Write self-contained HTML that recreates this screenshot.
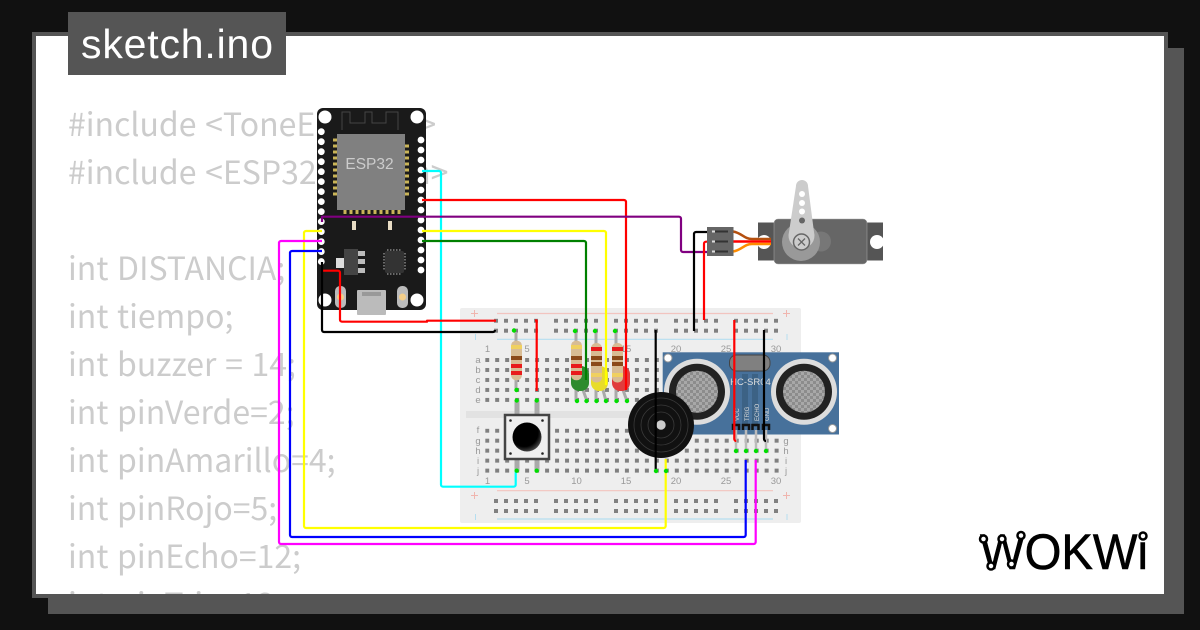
<!DOCTYPE html>
<html><head><meta charset="utf-8"><style>
html,body{margin:0;padding:0;background:#111;width:1200px;height:630px;overflow:hidden}
svg{display:block;position:absolute;left:0;top:0}
.code{font-family:"Noto Sans CJK JP","Liberation Sans",sans-serif;font-size:32px;fill:#ccc;word-spacing:1.5px}
.w{fill:none;stroke-width:2.2;stroke-linejoin:round}
</style></head><body>
<svg width="1200" height="630" viewBox="0 0 1200 630" xmlns="http://www.w3.org/2000/svg">
<defs>
<clipPath id="cp"><rect x="36" y="36" width="1128" height="558"/></clipPath>
<pattern id="h" x="485.2" y="358" width="9.98" height="9.98" patternUnits="userSpaceOnUse"><rect width="4" height="4" fill="#808080"/></pattern>
<pattern id="h2" x="485.2" y="428.7" width="9.98" height="9.98" patternUnits="userSpaceOnUse"><rect width="4" height="4" fill="#808080"/></pattern>
<pattern id="r" x="494" y="318.700" width="10" height="10" patternUnits="userSpaceOnUse"><rect width="4" height="4" fill="#808080"/></pattern>
<pattern id="r2" x="494" y="499" width="10" height="10" patternUnits="userSpaceOnUse"><rect width="4" height="4" fill="#808080"/></pattern>
<pattern id="ck" width="6" height="6" patternUnits="userSpaceOnUse"><rect width="6" height="6" fill="#a8a8a8"/><rect width="3" height="3" fill="#8c8c8c"/><rect x="3" y="3" width="3" height="3" fill="#8c8c8c"/></pattern>
<radialGradient id="bt" cx=".4" cy=".35" r=".8"><stop offset=".6" stop-color="#000"/><stop offset="1" stop-color="#777"/></radialGradient>
</defs>

<rect x="48" y="48" width="1136" height="566" fill="#555"/>
<rect x="32" y="32" width="1136" height="566" fill="#555"/>
<rect x="36" y="36" width="1128" height="558" fill="#fff"/>
<g clip-path="url(#cp)" class="code">
<text x="68" y="136">#include &lt;ToneESP32.h&gt;</text>
<text x="68" y="184">#include &lt;ESP32Servo.h&gt;</text>
<text x="68" y="280">int DISTANCIA;</text>
<text x="68" y="328">int tiempo;</text>
<text x="68" y="376">int buzzer = 14;</text>
<text x="68" y="424">int pinVerde=2;</text>
<text x="68" y="472">int pinAmarillo=4;</text>
<text x="68" y="520">int pinRojo=5;</text>
<text x="68" y="568">int pinEcho=12;</text>
<text x="68" y="616">int pinTrig=13;</text>
</g>
<rect x="68" y="12" width="218" height="63" fill="#555"/>
<text x="81" y="58" font-family="Liberation Sans,sans-serif" font-size="41" fill="#fff" textLength="192">sketch.ino</text>

<!-- breadboard -->
<rect x="460" y="308" width="341" height="215" rx="2" fill="#eee"/>
<rect x="466" y="411" width="329" height="7" fill="#e2e2e2"/>
<path d="M497 313.5H773M497 490.7H773" stroke="#f2c4bf" stroke-width="1.2"/>
<path d="M497 339.3H773M497 519H773" stroke="#b5def0" stroke-width="1.2"/>
<path d="M471 313.5h7M474.5 310v7M471 495.5h7M474.5 492v7M783 313.5h7M786.5 310v7M783 495.5h7M786.5 492v7" stroke="#f0b5ae" stroke-width="1"/>
<path d="M475.5 334v6M475.5 514v6M787 334v6M787 514v6" stroke="#b5def0" stroke-width="1"/>
<rect x="485.2" y="358" width="294" height="45" fill="url(#h)"/>
<rect x="485.2" y="428.7" width="294" height="45" fill="url(#h2)"/>
<g fill="url(#r)">
<rect x="494" y="318.700" width="45" height="15"/><rect x="554" y="318.700" width="45" height="15"/><rect x="614" y="318.700" width="45" height="15"/><rect x="674" y="318.700" width="45" height="15"/><rect x="734" y="318.700" width="45" height="15"/>
</g>
<g fill="url(#r2)">
<rect x="494" y="499" width="45" height="15"/><rect x="554" y="499" width="45" height="15"/><rect x="614" y="499" width="45" height="15"/><rect x="674" y="499" width="45" height="15"/><rect x="734" y="499" width="45" height="15"/>
</g>
<g font-family="Liberation Sans,sans-serif" font-size="9.500" fill="#999" text-anchor="middle">
<text x="487.5" y="352">1</text><text x="527" y="352">5</text><text x="576.5" y="352">10</text><text x="626" y="352">15</text><text x="676" y="352">20</text><text x="726" y="352">25</text><text x="776" y="352">30</text>
<text x="487.5" y="484">1</text><text x="527" y="484">5</text><text x="576.5" y="484">10</text><text x="626" y="484">15</text><text x="676" y="484">20</text><text x="726" y="484">25</text><text x="776" y="484">30</text>
<text x="478" y="363">a</text><text x="478" y="373">b</text><text x="478" y="383">c</text><text x="478" y="393">d</text><text x="478" y="403">e</text>
<text x="478" y="433">f</text><text x="478" y="444">g</text><text x="478" y="454">h</text><text x="478" y="464">i</text><text x="478" y="474">j</text>
<text x="786" y="444">g</text><text x="786" y="454">h</text><text x="786" y="464">i</text><text x="786" y="474">j</text>
</g>

<!-- ESP32 -->
<rect x="317" y="108" width="109" height="202" rx="6" fill="#1a1a1a"/>
<path d="M342 130V112H350V123H365V112H372V123H386V112H398V130" fill="none" stroke="#444" stroke-width="1"/>
<path d="M333 140H337M333 146H337M333 152H337M333 158H337M333 164H337M333 170H337M333 176H337M333 182H337M333 188H337M333 194H337M405 146H409M405 152H409M405 158H409M405 164H409M405 170H409M405 176H409M405 182H409M405 188H409M405 194H409" stroke="#c9b458" stroke-width="3"/>
<path d="M345 210V214M351 210V214M357 210V214M363 210V214M369 210V214M375 210V214M381 210V214M387 210V214M393 210V214M399 210V214" stroke="#c9b458" stroke-width="3"/>
<rect x="337" y="134" width="68" height="76" fill="#808080"/>
<text x="369.500" y="169" font-family="Liberation Sans,sans-serif" font-size="15.500" fill="#ccc" text-anchor="middle">ESP32</text>
<rect x="352" y="221" width="4" height="9" fill="#e8dcc4"/><rect x="388" y="221" width="4" height="9" fill="#e8dcc4"/>
<path d="M321.300 131.700V271.500" stroke="#fff" stroke-width="6.800" stroke-linecap="round" stroke-dasharray="0 9.990"/>
<path d="M421 140V271.500" stroke="#fff" stroke-width="6.800" stroke-linecap="round" stroke-dasharray="0 10"/>
<circle cx="325" cy="117" r="6.500" fill="#fff"/><circle cx="417" cy="117" r="6.500" fill="#fff"/><circle cx="325" cy="300" r="6.500" fill="#fff"/><circle cx="417" cy="300" r="6.500" fill="#fff"/>
<rect x="336" y="258" width="8" height="10" fill="#ddd"/>
<rect x="344" y="249" width="14" height="26" fill="#444"/>
<rect x="358" y="251" width="7" height="5" fill="#bbb"/><rect x="358" y="259" width="7" height="5" fill="#bbb"/><rect x="358" y="268" width="7" height="5" fill="#bbb"/>
<rect x="385" y="251" width="19" height="22" rx="2" fill="#333"/>
<path d="M384 253V271M405 253V271M387 250H402M387 274H402" stroke="#bbb" stroke-width="1" stroke-dasharray="1.500 1.500"/>
<rect x="335" y="286" width="11" height="22" rx="5" fill="#bbb"/><circle cx="340.500" cy="297" r="3.500" fill="#f4cf8a"/>
<rect x="397" y="286" width="11" height="22" rx="5" fill="#bbb"/><circle cx="402.500" cy="297" r="3.500" fill="#f4cf8a"/>
<rect x="357" y="290" width="29" height="25" rx="1" fill="#bbb"/><rect x="362" y="292" width="19" height="4" fill="#999"/>

<!-- resistors / LEDs -->
<g stroke="#aaa" stroke-width="3" fill="none"><path d="M516 332V390"/><path d="M576 332V362"/><path d="M596 332V362"/><path d="M616 332V362"/>
<path d="M576 385V401M583 390L587 401M596 385V401M603 390L606 401M616 385V401M623 390L627 401"/></g>
<g>
<rect x="571" y="366" width="18" height="25" rx="8" fill="#2e8b2e"/><rect x="591" y="366" width="17" height="25" rx="8" fill="#e8dc2a"/><rect x="612" y="366" width="18" height="25" rx="8" fill="#e03c3c"/>
<rect x="511" y="340.700" width="11" height="39.500" rx="5" fill="#d8bc94"/><rect x="511" y="345" width="11" height="4" fill="#f0d060"/><rect x="511" y="356" width="11" height="4" fill="#8b4a1a"/><rect x="511" y="364" width="11" height="4" fill="#e81c1c"/><rect x="511" y="371" width="11" height="4" fill="#e81c1c"/>
<rect x="571" y="340.700" width="11" height="39.500" rx="5" fill="#d8bc94"/><rect x="571" y="345" width="11" height="4" fill="#f0d060"/><rect x="571" y="356" width="11" height="4" fill="#8b4a1a"/><rect x="571" y="364" width="11" height="4" fill="#e81c1c"/><rect x="571" y="371" width="11" height="4" fill="#e81c1c"/>
<rect x="591" y="343" width="11" height="39.500" rx="5" fill="#d8bc94"/><rect x="591" y="347" width="11" height="4" fill="#e81c1c"/><rect x="591" y="356" width="11" height="4" fill="#8b4a1a"/><rect x="591" y="362" width="11" height="4" fill="#8b4a1a"/><rect x="591" y="373" width="11" height="4" fill="#f0d060"/>
<rect x="612" y="343" width="11" height="39.500" rx="5" fill="#d8bc94"/><rect x="612" y="347" width="11" height="4" fill="#e81c1c"/><rect x="612" y="356" width="11" height="4" fill="#8b4a1a"/><rect x="612" y="362" width="11" height="4" fill="#8b4a1a"/><rect x="612" y="373" width="11" height="4" fill="#f0d060"/>
</g>

<!-- button -->
<rect x="514.500" y="400" width="5" height="71" fill="#aaa"/><rect x="534.500" y="400" width="5" height="71" fill="#aaa"/>
<rect x="505" y="415" width="44" height="44" fill="#eee" stroke="#444" stroke-width="2.500"/>
<circle cx="527" cy="437" r="14.500" fill="url(#bt)"/>
<g fill="#222"><circle cx="510.500" cy="420.500" r="1.300"/><circle cx="542.500" cy="420.500" r="1.300"/><circle cx="510.500" cy="453.500" r="1.300"/><circle cx="542.500" cy="453.500" r="1.300"/></g>

<!-- HC-SR04 -->
<rect x="662.700" y="352.300" width="176.300" height="82.200" fill="#47719b"/>
<g fill="#3c6285"><path d="M742 374h6v50h-6zM752 374h6v50h-6z"/></g>
<rect x="729.500" y="355" width="40.500" height="16" rx="7" fill="#808080" stroke="#444" stroke-width="1"/>
<circle cx="697" cy="391.700" r="33" fill="#ddd"/><circle cx="697" cy="391.700" r="28" fill="#222"/><circle cx="697" cy="391.700" r="21" fill="url(#ck)"/>
<circle cx="804" cy="391.700" r="33" fill="#ddd"/><circle cx="804" cy="391.700" r="28" fill="#222"/><circle cx="804" cy="391.700" r="21" fill="url(#ck)"/>
<circle cx="668" cy="358" r="4" fill="#fff" stroke="#999"/><circle cx="832.500" cy="358" r="4" fill="#fff" stroke="#999"/><circle cx="832.500" cy="428.500" r="4" fill="#fff" stroke="#999"/>
<text x="750.500" y="385" font-family="Liberation Sans,sans-serif" font-size="9.500" fill="#ddd" text-anchor="middle">HC-SR04</text>
<g font-family="Liberation Sans,sans-serif" font-size="6" fill="#ddd">
<text transform="translate(739,421) rotate(-90)">VCC</text><text transform="translate(749,421) rotate(-90)">TRIG</text><text transform="translate(759,421) rotate(-90)">ECHO</text><text transform="translate(769,421) rotate(-90)">GND</text>
</g>
<path d="M736 430V451M746 430V451M756 430V451M766 430V451" stroke="#bbb" stroke-width="2.500"/>
<path d="M733 430V425h6v5M743 430V425h6v5M752.500 430V425h6v5M763 430V425h6v5" fill="none" stroke="#111" stroke-width="2.500"/>

<!-- buzzer -->
<circle cx="661" cy="425" r="33" fill="#111"/>
<g fill="none" stroke="#3a3a3a" stroke-width=".8"><circle cx="661" cy="425" r="27"/><circle cx="661" cy="425" r="20"/><circle cx="661" cy="425" r="13"/></g>
<circle cx="661" cy="425" r="4.700" fill="#ccc"/>

<!-- servo -->
<rect x="758" y="222.500" width="125" height="38" fill="#555"/>
<circle cx="764" cy="242" r="7" fill="#fff"/><circle cx="877" cy="242" r="7" fill="#fff"/>
<rect x="774" y="219" width="93" height="45" rx="4" fill="#666" stroke="#aaa" stroke-width=".5"/>
<circle cx="821" cy="241.500" r="10" fill="#777"/>
<circle cx="801" cy="242" r="19" fill="#999"/>
<path d="M796 186a6 6 0 0 1 12 0L814 232a13 13 0 1 1 -25 0Z" fill="#ccc"/>
<g fill="#fff"><circle cx="802" cy="194" r="3"/><circle cx="802" cy="203" r="3"/><circle cx="802" cy="211.500" r="3"/></g><circle cx="802" cy="220.500" r="3" fill="#666"/>
<circle cx="801.500" cy="242" r="8" fill="#ccc" stroke="#666" stroke-width="1.500"/>
<path d="M798 238.500l7 7M805 238.500l-7 7" stroke="#666" stroke-width="1.300"/>
<path d="M733 231.500C742 233 744 239 752 239H771" fill="none" stroke="#b5500f" stroke-width="2.500"/>
<path d="M733 241.500H771" stroke="#f00" stroke-width="2.500"/>
<path d="M733 251.500C742 250 744 244 752 244H771" fill="none" stroke="#ff8c00" stroke-width="2.500"/>
<rect x="707" y="227" width="26.500" height="29" fill="#666"/>
<path d="M712 231.500H728M712 241.500H728M712 251.500H728" stroke="#333" stroke-width="2"/>
<path d="M712 231.500h3M712 241.500h3M712 251.500h3" stroke="#ddd" stroke-width="2"/>

<!-- wires -->
<g class="w">
<path stroke="#0ff" d="M422 171H439a2 2 0 0 1 2 2V484.700a2 2 0 0 0 2 2H513.700a2 2 0 0 0 2 -2V470"/>
<path stroke="#f00" d="M422 200H624a2 2 0 0 1 2 2V390"/>
<path stroke="#008000" d="M422 241H584a2 2 0 0 1 2 2V380"/>
<path stroke="#ff0" d="M422 231H604a2 2 0 0 1 2 2V385"/>
<path stroke="#800080" d="M322 222V216.700H679a2 2 0 0 1 2 2V250a2 2 0 0 0 2 2H707"/>
<path stroke="#000" d="M707 232H696a2 2 0 0 0 -2 2V331"/>
<path stroke="#f00" d="M707 241.700H706a2 2 0 0 0 -2 2V320"/>
<path stroke="#ff0" d="M322 231H306a2 2 0 0 0 -2 2V526a2 2 0 0 0 2 2H663.700a2 2 0 0 0 2 -2V459"/>
<path stroke="#f0f" d="M322 241H281a2 2 0 0 0 -2 2V542a2 2 0 0 0 2 2H753.700a2 2 0 0 0 2 -2V460"/>
<path stroke="#00f" d="M322 251H292a2 2 0 0 0 -2 2V535a2 2 0 0 0 2 2H743.700a2 2 0 0 0 2 -2V460"/>
<path stroke="#f00" d="M322 270.700H338a2 2 0 0 1 2 2V319.700a2 2 0 0 0 2 2H427V320.700H496"/>
<path stroke="#000" d="M322 262V330a2 2 0 0 0 2 2H493a2 2 0 0 0 2 -2"/>
<path stroke="#f00" d="M535 320.500H536.700V391"/>
<path stroke="#000" d="M655.700 330V471"/>
<path stroke="#f00" d="M734.300 320V439a2 2 0 0 0 2 2"/>
<path stroke="#000" d="M764 330V439a2 2 0 0 0 2 2"/>
</g>
<g fill="#0d0">
<circle cx="514" cy="330.500" r="2.200"/><circle cx="516.500" cy="390" r="2.200"/><circle cx="516.700" cy="400.500" r="2.200"/><circle cx="536.700" cy="400.500" r="2.200"/>
<circle cx="575" cy="331" r="2.200"/><circle cx="595" cy="331" r="2.200"/><circle cx="615" cy="331" r="2.200"/>
<circle cx="577" cy="401" r="2.200"/><circle cx="586.500" cy="401" r="2.200"/><circle cx="596.500" cy="401" r="2.200"/><circle cx="606" cy="401" r="2.200"/><circle cx="616.500" cy="401" r="2.200"/><circle cx="627" cy="401" r="2.200"/>
<circle cx="516.700" cy="470.700" r="2.200"/><circle cx="536.700" cy="470.700" r="2.200"/><circle cx="656" cy="471" r="2.200"/><circle cx="666" cy="471" r="2.200"/>
<circle cx="736" cy="451" r="2.200"/><circle cx="746" cy="451" r="2.200"/><circle cx="756" cy="451" r="2.200"/><circle cx="766" cy="451" r="2.200"/>
</g>

<!-- logo -->
<text x="980" y="569" font-family="Liberation Sans,sans-serif" font-size="50" fill="#000" stroke="#000" stroke-width=".6" textLength="168" lengthAdjust="spacingAndGlyphs">WOKWi</text>
<g fill="#fff" stroke="#000" stroke-width="2.500"><circle cx="983.500" cy="539" r="3.500"/><circle cx="1002" cy="539" r="3.500"/><circle cx="1021" cy="535.500" r="3.500"/><circle cx="991" cy="566" r="3.500"/><circle cx="1011.500" cy="564" r="3.500"/><circle cx="1143" cy="536" r="3.500"/></g>
</svg>
</body></html>
